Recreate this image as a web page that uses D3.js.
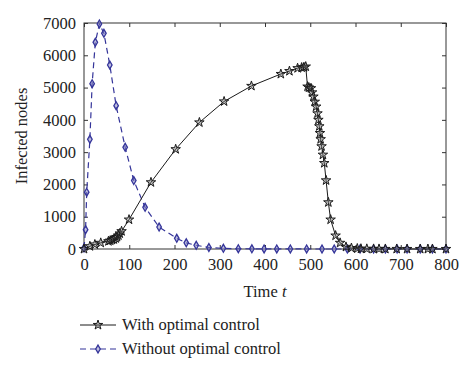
<!DOCTYPE html>
<html>
<head>
<meta charset="utf-8">
<script src="https://cdn.jsdelivr.net/npm/d3@7"></script>
<style>
  body { margin: 0; background: #fff; }
  text { font-family: "Liberation Serif", "DejaVu Serif", serif; fill: #222; }
</style>
</head>
<body>
<div id="chart"></div>
<script>
// Time values and infected counts
const timeWith = [0, 13, 24, 37, 54, 58, 62, 66, 70, 73, 76, 79, 83, 99.5, 148, 202.6, 255, 309.6, 370,
  435, 454, 472, 481, 486, 490, 494, 497, 501.6, 504, 507, 510, 513, 516, 518, 520, 521.5, 523, 525, 528, 531, 535,
  540, 545, 556, 566, 579, 591, 604, 612, 625, 640, 652, 666, 691, 714, 743, 760, 770, 800];
const infectedWith = [0, 85, 140, 190, 240, 260, 280, 300, 330, 370, 420, 480, 550, 910, 2065, 3090, 3920, 4570, 5050,
  5420, 5510, 5600, 5620, 5630, 5650, 5030, 5000, 4980, 4850, 4720, 4560, 4410, 4200, 4000, 3800, 3590, 3400, 3180, 2920, 2660, 2125,
  1445, 910, 415, 190, 65, 30, 15, 8, 5, 3, 2, 1, 1, 0, 0, 0, 0, 0];

const timeWithout = [0, 3.5, 6, 13, 18, 25, 34, 44, 57, 71, 91, 110, 135, 166, 205, 226, 248, 276, 308, 341,
  371, 398, 426, 456, 492, 526, 553, 582, 610, 640, 666, 692, 714, 743, 770, 800];
const infectedWithout = [30, 600, 1760, 3400, 5120, 6400, 6970, 6680, 5700, 4440, 3150, 2120, 1290, 680, 330, 190, 115, 45, 20, 10,
  5, 3, 2, 1, 1, 0, 0, 0, 0, 0, 0, 0, 0, 0, 0, 0];

const xTicks = [0, 100, 200, 300, 400, 500, 600, 700, 800];
const yTicks = [0, 1000, 2000, 3000, 4000, 5000, 6000, 7000];

const seriesNames = ['With optimal control', 'Without optimal control'];

const W = 474, H = 376;
const margin = { top: 23, right: 28, bottom: 127, left: 84 };
const width = W - margin.left - margin.right;
const height = H - margin.top - margin.bottom;
const fontSize = '16.5px';

const blue = '#35359a';
const black = '#1a1a1a';

const svg = d3.select('#chart').append('svg')
  .attr('width', W)
  .attr('height', H);

const g = svg.append('g')
  .attr('transform', `translate(${margin.left},${margin.top})`);

const x = d3.scaleLinear().domain([0, 800]).range([0, width]);
const y = d3.scaleLinear().domain([0, 7000]).range([height, 0]);

// Axes with inward ticks, mirrored like MATLAB
const styleAxis = sel => {
  sel.select('.domain').remove();
  sel.selectAll('line').attr('stroke', '#333');
  sel.selectAll('text').style('font-size', fontSize).attr('fill', '#222');
};

g.append('g')
  .attr('transform', `translate(0,${height})`)
  .call(d3.axisBottom(x).tickValues(xTicks).tickSize(-4).tickPadding(9).tickFormat(d3.format('d')))
  .call(styleAxis);
g.append('g')
  .call(d3.axisTop(x).tickValues(xTicks).tickSize(-4).tickFormat(''))
  .call(styleAxis);
g.append('g')
  .call(d3.axisLeft(y).tickValues(yTicks).tickSize(-4).tickPadding(8).tickFormat(d3.format('d')))
  .call(styleAxis);
g.append('g')
  .attr('transform', `translate(${width},0)`)
  .call(d3.axisRight(y).tickValues(yTicks).tickSize(-4).tickFormat(''))
  .call(styleAxis);

g.append('rect')
  .attr('width', width)
  .attr('height', height)
  .attr('fill', 'none')
  .attr('stroke', '#333')
  .attr('stroke-width', 1);

// Axis labels
const xLabel = g.append('text')
  .attr('x', width / 2)
  .attr('y', height + 48)
  .attr('text-anchor', 'middle')
  .style('font-size', fontSize);
xLabel.append('tspan').text('Time ');
xLabel.append('tspan').style('font-style', 'italic').text('t');

g.append('text')
  .attr('transform', `translate(-57,${height / 2}) rotate(-90)`)
  .attr('text-anchor', 'middle')
  .style('font-size', fontSize)
  .text('Infected nodes');

// Lines
const line = d3.line()
  .x(d => x(d[0]))
  .y(d => y(d[1]));

const dataWith = timeWith.map((t, i) => [t, infectedWith[i]]);
const dataWithout = timeWithout.map((t, i) => [t, infectedWithout[i]]);

const star = d3.symbol().type(d3.symbolStar).size(28);
const diamond = d3.symbol().type(d3.symbolDiamond).size(18);

g.append('path')
  .datum(dataWithout)
  .attr('fill', 'none')
  .attr('stroke', blue)
  .attr('stroke-width', 1.2)
  .attr('stroke-dasharray', '6,4')
  .attr('d', line);

g.append('path')
  .datum(dataWith)
  .attr('fill', 'none')
  .attr('stroke', black)
  .attr('stroke-width', 1)
  .attr('d', line);

g.selectAll('.mk-without')
  .data(dataWithout)
  .enter()
  .append('path')
  .attr('class', 'mk-without')
  .attr('transform', d => `translate(${x(d[0])},${y(d[1])})`)
  .attr('d', diamond)
  .attr('fill', '#8080c0')
  .attr('fill-opacity', 0.5)
  .attr('stroke', blue)
  .attr('stroke-width', 1.3);

g.selectAll('.mk-with')
  .data(dataWith)
  .enter()
  .append('path')
  .attr('class', 'mk-with')
  .attr('transform', d => `translate(${x(d[0])},${y(d[1])})`)
  .attr('d', star)
  .attr('fill', '#666')
  .attr('fill-opacity', 0.4)
  .attr('stroke', black)
  .attr('stroke-width', 1);

// Legend below the plot
const legend = svg.append('g')
  .attr('transform', 'translate(80, 325)');

legend.append('line')
  .attr('x1', 0).attr('x2', 36).attr('y1', 0).attr('y2', 0)
  .attr('stroke', black).attr('stroke-width', 1);
legend.append('path')
  .attr('transform', 'translate(18,0)')
  .attr('d', star)
  .attr('fill', '#666')
  .attr('fill-opacity', 0.4)
  .attr('stroke', black);
legend.append('text')
  .attr('x', 42).attr('y', 5)
  .style('font-size', fontSize)
  .text(seriesNames[0]);

legend.append('line')
  .attr('x1', 0).attr('x2', 36).attr('y1', 24).attr('y2', 24)
  .attr('stroke', blue).attr('stroke-width', 1.2)
  .attr('stroke-dasharray', '6,4');
legend.append('path')
  .attr('transform', 'translate(18,24)')
  .attr('d', diamond)
  .attr('fill', '#8080c0')
  .attr('fill-opacity', 0.5)
  .attr('stroke', blue)
  .attr('stroke-width', 1.3);
legend.append('text')
  .attr('x', 42).attr('y', 29)
  .style('font-size', fontSize)
  .text(seriesNames[1]);
</script>
</body>
</html>
